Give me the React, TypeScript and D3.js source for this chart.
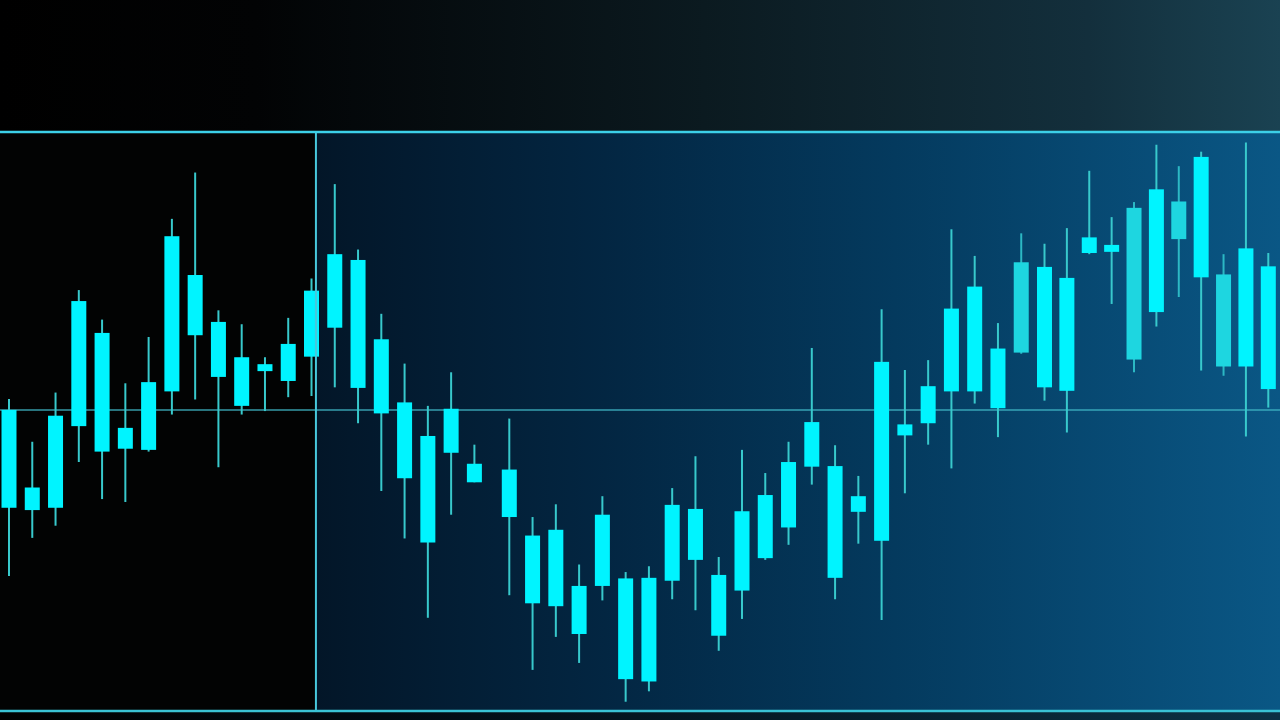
import React from "react";
import * as d3 from "d3";

// Candle slots (time position); a one-and-a-half slot gap appears after bar 21
const slots: number[] = [
  0, 1, 2, 3, 4, 5, 6, 7, 8, 9, 10, 11, 12, 13, 14, 15, 16, 17, 18, 19, 20,
  21.5, 22.5, 23.5, 24.5, 25.5, 26.5, 27.5, 28.5, 29.5, 30.5, 31.5, 32.5, 33.5,
  34.5, 35.5, 36.5, 37.5, 38.5, 39.5, 40.5, 41.5, 42.5, 43.5, 44.5, 45.5, 46.5,
  47.5, 48.5, 49.5, 50.5, 51.5, 52.5, 53.5, 54.5,
];
// body top / body bottom / wick high / wick low (price units)
const bodyHigh: number[] = [
  52.0, 38.6, 51.0, 70.8, 65.3, 48.9, 56.8, 82.0, 75.3, 67.2, 61.1, 59.9, 63.4, 72.6, 78.9, 77.9, 64.2, 53.3, 47.5, 52.2, 42.7,
  41.7, 30.3, 31.3, 21.6, 33.9, 22.9, 23.0, 35.6, 34.9, 23.5, 34.5, 37.3, 43.0, 49.9, 42.3, 37.1, 60.3, 49.5, 56.1, 69.5,
  73.3, 62.6, 77.5, 76.7, 74.8, 81.8, 80.5, 86.9, 90.1, 88.0, 95.7, 75.4, 79.9, 76.8,
];
const bodyLow: number[] = [
  35.1, 34.7, 35.1, 49.2, 44.8, 45.3, 45.1, 55.2, 64.9, 57.7, 52.7, 58.7, 57.0, 61.2, 66.2, 55.8, 51.4, 40.2, 29.1, 44.6, 39.5,
  33.5, 18.6, 18.1, 13.3, 21.6, 5.5, 5.1, 22.5, 26.1, 13.0, 20.8, 26.4, 31.7, 42.2, 23.0, 34.4, 29.4, 47.6, 49.7, 55.2,
  55.2, 52.3, 61.9, 55.9, 55.3, 79.1, 79.3, 60.7, 68.9, 81.5, 74.9, 59.5, 59.5, 55.6,
];
const high: number[] = [
  53.9, 46.5, 55.0, 72.7, 67.6, 56.6, 64.6, 85.0, 93.0, 69.2, 66.8, 61.1, 67.9, 74.7, 91.0, 79.7, 68.6, 60.0, 52.7, 58.5, 46.0,
  50.5, 33.5, 35.7, 25.3, 37.1, 24.0, 25.0, 38.5, 44.0, 26.6, 45.1, 41.1, 46.5, 62.7, 45.9, 40.6, 69.4, 58.9, 60.6, 83.2,
  78.6, 67.0, 82.5, 80.7, 83.4, 93.3, 85.3, 87.9, 97.8, 94.1, 96.6, 78.9, 98.2, 79.1,
];
const low: number[] = [
  23.3, 29.9, 32.0, 43.0, 36.6, 36.1, 44.8, 51.2, 53.8, 42.1, 51.2, 51.8, 54.2, 54.4, 55.9, 49.7, 38.0, 29.8, 16.1, 33.9, 39.5,
  20.0, 7.1, 12.8, 8.3, 19.1, 1.6, 3.4, 19.3, 17.4, 10.4, 15.9, 26.1, 28.7, 39.1, 19.3, 28.9, 15.7, 37.6, 46.0, 41.9,
  53.1, 47.3, 61.7, 53.6, 48.1, 78.9, 70.3, 58.5, 66.4, 71.5, 58.8, 57.9, 47.4, 52.4,
];
// bars drawn in a slightly duller teal
const fadedBars: number[] = [43, 48, 50, 52];
// reference level and marker slot of the crosshair
const levelPrice = 52.0;
const markerSlot = 13.19;

const W = 1280;
const H = 720;
const TOP = 132;
const BOTTOM = 711;

export default function App() {
  // the picture compresses the last bars slightly: a two-piece linear scale
  const x = d3.scaleLinear().domain([0, 44.5, 54.5]).range([9, 1044.5, 1268.3]);
  const y = d3.scaleLinear().domain([0, 100]).range([BOTTOM, TOP]);
  const bodyW = 15;
  const markX = x(markerSlot);

  return (
    <svg
      width={W}
      height={H}
      style={{ position: "fixed", left: 0, top: 0, display: "block" }}
    >
      <defs>
        <linearGradient id="topGrad" x1="0" x2="1" y1="0" y2="0">
          <stop offset="0" stopColor="#000000" />
          <stop offset="0.2" stopColor="#020304" />
          <stop offset="0.55" stopColor="#0b1a20" />
          <stop offset="0.85" stopColor="#132f3c" />
          <stop offset="1" stopColor="#1a4252" />
        </linearGradient>
        <linearGradient id="panelGrad" x1="0" x2="1" y1="0" y2="0">
          <stop offset="0" stopColor="#031628" />
          <stop offset="0.3" stopColor="#032642" />
          <stop offset="0.6" stopColor="#043a5e" />
          <stop offset="1" stopColor="#0a5785" />
        </linearGradient>
        <linearGradient id="botGrad" x1="0" x2="1" y1="0" y2="0">
          <stop offset="0" stopColor="#000000" />
          <stop offset="0.3" stopColor="#010a12" />
          <stop offset="1" stopColor="#0c3144" />
        </linearGradient>
      </defs>
      <rect x={0} y={0} width={W} height={TOP} fill="url(#topGrad)" />
      <rect x={0} y={BOTTOM} width={W} height={H - BOTTOM} fill="url(#botGrad)" />
      <rect x={0} y={TOP} width={markX} height={BOTTOM - TOP} fill="#020303" />
      <rect x={markX} y={TOP} width={W - markX} height={BOTTOM - TOP} fill="url(#panelGrad)" />

      <line x1={0} x2={W} y1={y(levelPrice)} y2={y(levelPrice)} stroke="#3fb6c4" strokeWidth={1.5} opacity={0.85} />

      {slots.map((s, i) => {
        const cx = x(s);
        const faded = fadedBars.includes(i);
        const top = y(bodyHigh[i]);
        const bot = y(bodyLow[i]);
        return (
          <g key={i}>
            <line
              x1={cx}
              x2={cx}
              y1={y(high[i])}
              y2={y(low[i])}
              stroke={faded ? "#2cb8c4" : "#38c9cc"}
              strokeWidth={2}
            />
            <rect
              x={cx - bodyW / 2}
              y={top}
              width={bodyW}
              height={Math.max(3, bot - top)}
              fill={faded ? "#1ed6e0" : "#00f4ff"}
            />
          </g>
        );
      })}

      <line x1={markX} x2={markX} y1={TOP} y2={BOTTOM} stroke="#48c8dc" strokeWidth={2} />
      <line x1={0} x2={W} y1={TOP} y2={TOP} stroke="#3cd0e8" strokeWidth={2.5} />
      <line x1={0} x2={W} y1={BOTTOM} y2={BOTTOM} stroke="#3ac2d4" strokeWidth={2.5} />
    </svg>
  );
}
